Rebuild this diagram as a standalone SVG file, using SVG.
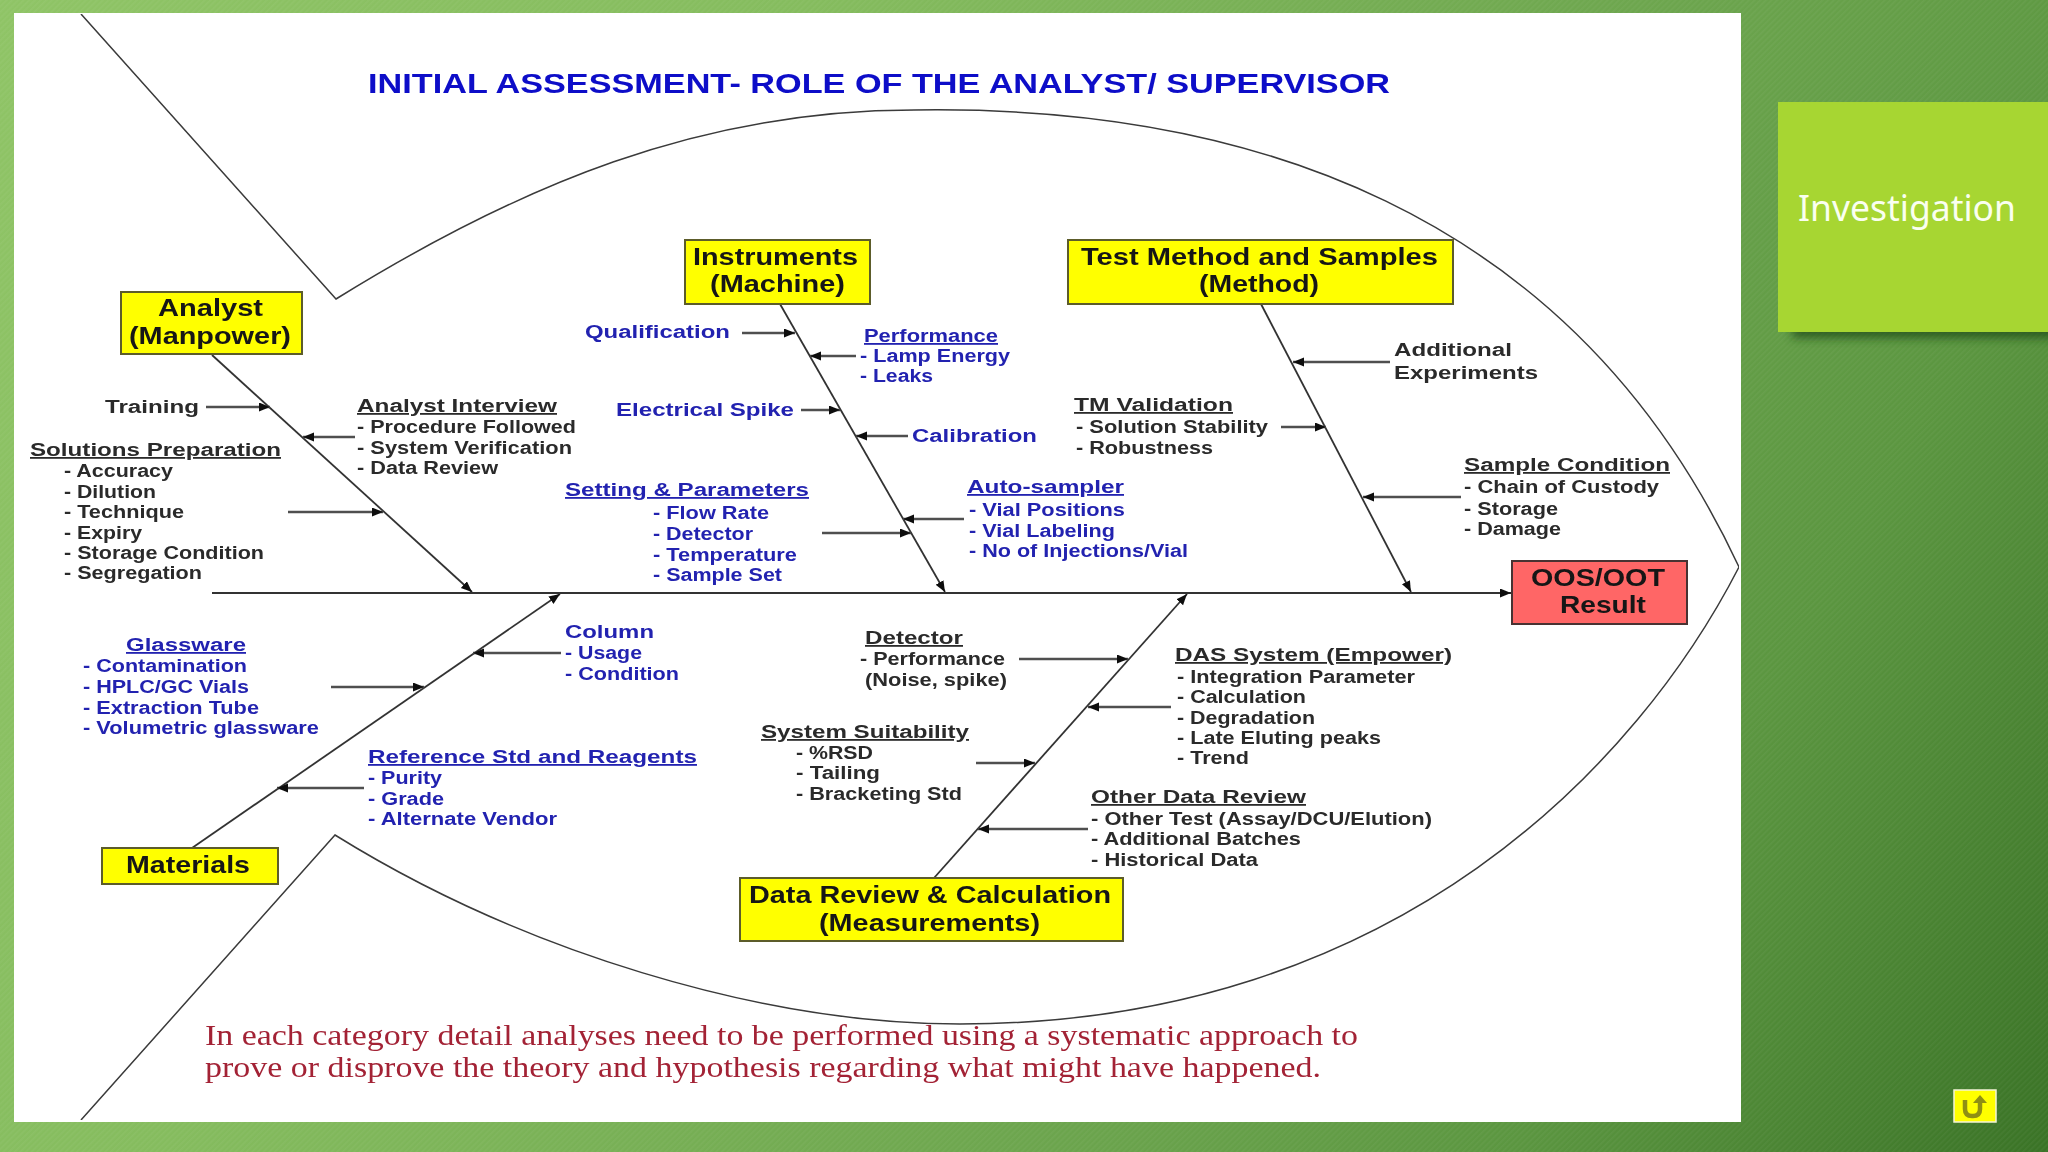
<svg xmlns="http://www.w3.org/2000/svg" width="2048" height="1152" viewBox="0 0 2048 1152">
<style>
text{font-family:"Liberation Sans",Arial,sans-serif;font-weight:bold}
.k{fill:#2a2a2a;font-size:18px}
.l{fill:#2424b0;font-size:18px}
.u{text-decoration:underline}
.h{fill:#161616;font-size:24px}
.box{fill:#ffff00;stroke:#5c5c2c;stroke-width:2}
.bone{fill:none;stroke:#333;stroke-width:1.8;marker-end:url(#a)}
.sub{fill:none;stroke:#505050;stroke-width:2.4;marker-end:url(#a)}
.fish{fill:none;stroke:#3a3a3a;stroke-width:1.5}
.note{font-family:"Liberation Serif","Times New Roman",serif;font-weight:normal;fill:#a32436;font-size:29px}
</style>
<defs>
<linearGradient id="bg" gradientUnits="userSpaceOnUse" x1="0" y1="0" x2="2048" y2="1152">
<stop offset="0" stop-color="#8fc466"/><stop offset=".3" stop-color="#85bc5e"/><stop offset=".65" stop-color="#6aa34c"/><stop offset=".8" stop-color="#5b9640"/><stop offset="1" stop-color="#3a7326"/>
</linearGradient>
<pattern id="hatch" width="4" height="4" patternUnits="userSpaceOnUse" patternTransform="rotate(-45)">
<rect width="4" height="1.6" fill="#ffffff" opacity=".045"/>
</pattern>
<marker id="a" markerUnits="userSpaceOnUse" markerWidth="12" markerHeight="10" refX="11" refY="4.5" orient="auto">
<path d="M0 0L11 4.5L0 9Z" fill="#111"/>
</marker>
<filter id="soft" x="-20%" y="-100%" width="140%" height="300%"><feGaussianBlur stdDeviation="5"/></filter>
<filter id="scan" x="0" y="0" width="100%" height="100%"><feGaussianBlur stdDeviation="0.45"/></filter>
</defs>

<rect width="2048" height="1152" fill="url(#bg)"/>
<rect width="2048" height="1152" fill="url(#hatch)"/>
<rect x="14" y="13" width="1727" height="1109" fill="#ffffff"/>

<g filter="url(#scan)">
<path class="fish" d="M81 14L336 299C520 185 700 110 914 110C1240 105 1570 205 1739 567C1640 760 1400 1024 960 1024C760 1024 520 950 335 835L81 1120"/>

<text x="368" y="93" font-size="28" fill="#0a0ac8" textLength="1022" lengthAdjust="spacingAndGlyphs">INITIAL ASSESSMENT- ROLE OF THE ANALYST/ SUPERVISOR</text>

<g id="connectors">
<line class="bone" x1="212" y1="593" x2="1511" y2="593"/>
<line class="bone" x1="212" y1="355" x2="472" y2="592"/>
<line class="bone" x1="780" y1="304" x2="945" y2="592"/>
<line class="bone" x1="1261" y1="304" x2="1411" y2="592"/>
<line class="bone" x1="192" y1="848" x2="560" y2="594"/>
<line class="bone" x1="934" y1="878" x2="1187" y2="594"/>
<line class="sub" x1="206" y1="407" x2="270" y2="407"/>
<line class="sub" x1="355" y1="437" x2="303" y2="437"/>
<line class="sub" x1="288" y1="512" x2="383" y2="512"/>
<line class="sub" x1="742" y1="333" x2="795" y2="333"/>
<line class="sub" x1="856" y1="356" x2="810" y2="356"/>
<line class="sub" x1="801" y1="410" x2="840" y2="410"/>
<line class="sub" x1="908" y1="436" x2="856" y2="436"/>
<line class="sub" x1="822" y1="533" x2="911" y2="533"/>
<line class="sub" x1="964" y1="519" x2="903" y2="519"/>
<line class="sub" x1="1281" y1="427" x2="1326" y2="427"/>
<line class="sub" x1="1390" y1="362" x2="1293" y2="362"/>
<line class="sub" x1="1461" y1="497" x2="1363" y2="497"/>
<line class="sub" x1="561" y1="653" x2="473" y2="653"/>
<line class="sub" x1="331" y1="687" x2="424" y2="687"/>
<line class="sub" x1="364" y1="788" x2="277" y2="788"/>
<line class="sub" x1="1019" y1="659" x2="1128" y2="659"/>
<line class="sub" x1="1171" y1="707" x2="1088" y2="707"/>
<line class="sub" x1="976" y1="763" x2="1035" y2="763"/>
<line class="sub" x1="1088" y1="829" x2="978" y2="829"/>
</g>

<g id="analyst"><rect class="box" x="121" y="292" width="181" height="62"/>
<text class="h" x="158" y="316" textLength="105" lengthAdjust="spacingAndGlyphs">Analyst</text>
<text class="h" x="129" y="344" textLength="162" lengthAdjust="spacingAndGlyphs">(Manpower)</text></g>
<g id="instruments"><rect class="box" x="685" y="240" width="185" height="64"/>
<text class="h" x="693" y="265" textLength="165" lengthAdjust="spacingAndGlyphs">Instruments</text>
<text class="h" x="710" y="292" textLength="135" lengthAdjust="spacingAndGlyphs">(Machine)</text></g>
<g id="method"><rect class="box" x="1068" y="240" width="385" height="64"/>
<text class="h" x="1081" y="265" textLength="357" lengthAdjust="spacingAndGlyphs">Test Method and Samples</text>
<text class="h" x="1199" y="292" textLength="120" lengthAdjust="spacingAndGlyphs">(Method)</text></g>
<g id="materials"><rect class="box" x="102" y="848" width="176" height="36"/>
<text class="h" x="126" y="873" textLength="124" lengthAdjust="spacingAndGlyphs">Materials</text></g>
<g id="measurements"><rect class="box" x="740" y="878" width="383" height="63"/>
<text class="h" x="749" y="903" textLength="362" lengthAdjust="spacingAndGlyphs">Data Review &amp; Calculation</text>
<text class="h" x="819" y="931" textLength="221" lengthAdjust="spacingAndGlyphs">(Measurements)</text></g>
<g id="result"><rect x="1512" y="561" width="175" height="63" fill="#ff6666" stroke="#4a3030" stroke-width="2"/>
<text class="h" x="1531" y="586" textLength="134" lengthAdjust="spacingAndGlyphs">OOS/OOT</text>
<text class="h" x="1560" y="613" textLength="86" lengthAdjust="spacingAndGlyphs">Result</text></g>

<g id="training"><text class="k" x="105" y="413" textLength="94" lengthAdjust="spacingAndGlyphs">Training</text></g>
<g id="solutions">
<text class="k u" x="30" y="456" textLength="251" lengthAdjust="spacingAndGlyphs">Solutions Preparation</text>
<text class="k" x="64" y="477" textLength="109" lengthAdjust="spacingAndGlyphs">- Accuracy</text>
<text class="k" x="64" y="498" textLength="92" lengthAdjust="spacingAndGlyphs">- Dilution</text>
<text class="k" x="64" y="518" textLength="120" lengthAdjust="spacingAndGlyphs">- Technique</text>
<text class="k" x="64" y="539" textLength="78" lengthAdjust="spacingAndGlyphs">- Expiry</text>
<text class="k" x="64" y="559" textLength="200" lengthAdjust="spacingAndGlyphs">- Storage Condition</text>
<text class="k" x="64" y="579" textLength="138" lengthAdjust="spacingAndGlyphs">- Segregation</text></g>
<g id="interview">
<text class="k u" x="357" y="412" textLength="200" lengthAdjust="spacingAndGlyphs">Analyst Interview</text>
<text class="k" x="357" y="433" textLength="219" lengthAdjust="spacingAndGlyphs">- Procedure Followed</text>
<text class="k" x="357" y="454" textLength="215" lengthAdjust="spacingAndGlyphs">- System Verification</text>
<text class="k" x="357" y="474" textLength="141" lengthAdjust="spacingAndGlyphs">- Data Review</text></g>
<g id="qualification"><text class="l" x="585" y="338" textLength="145" lengthAdjust="spacingAndGlyphs">Qualification</text></g>
<g id="performance">
<text class="l u" x="864" y="342" textLength="134" lengthAdjust="spacingAndGlyphs">Performance</text>
<text class="l" x="860" y="362" textLength="150" lengthAdjust="spacingAndGlyphs">- Lamp Energy</text>
<text class="l" x="860" y="382" textLength="73" lengthAdjust="spacingAndGlyphs">- Leaks</text></g>
<g id="spike"><text class="l" x="616" y="416" textLength="178" lengthAdjust="spacingAndGlyphs">Electrical Spike</text></g>
<g id="calibration"><text class="l" x="912" y="442" textLength="125" lengthAdjust="spacingAndGlyphs">Calibration</text></g>
<g id="settings">
<text class="l u" x="565" y="496" textLength="244" lengthAdjust="spacingAndGlyphs">Setting &amp; Parameters</text>
<text class="l" x="653" y="519" textLength="116" lengthAdjust="spacingAndGlyphs">- Flow Rate</text>
<text class="l" x="653" y="540" textLength="100" lengthAdjust="spacingAndGlyphs">- Detector</text>
<text class="l" x="653" y="561" textLength="144" lengthAdjust="spacingAndGlyphs">- Temperature</text>
<text class="l" x="653" y="581" textLength="129" lengthAdjust="spacingAndGlyphs">- Sample Set</text></g>
<g id="autosampler">
<text class="l u" x="967" y="493" textLength="157" lengthAdjust="spacingAndGlyphs">Auto-sampler</text>
<text class="l" x="969" y="516" textLength="156" lengthAdjust="spacingAndGlyphs">- Vial Positions</text>
<text class="l" x="969" y="537" textLength="146" lengthAdjust="spacingAndGlyphs">- Vial Labeling</text>
<text class="l" x="969" y="557" textLength="219" lengthAdjust="spacingAndGlyphs">- No of Injections/Vial</text></g>
<g id="tm">
<text class="k u" x="1074" y="411" textLength="159" lengthAdjust="spacingAndGlyphs">TM Validation</text>
<text class="k" x="1076" y="433" textLength="192" lengthAdjust="spacingAndGlyphs">- Solution Stability</text>
<text class="k" x="1076" y="454" textLength="137" lengthAdjust="spacingAndGlyphs">- Robustness</text></g>
<g id="experiments">
<text class="k" x="1394" y="356" textLength="118" lengthAdjust="spacingAndGlyphs">Additional</text>
<text class="k" x="1394" y="379" textLength="144" lengthAdjust="spacingAndGlyphs">Experiments</text></g>
<g id="sample">
<text class="k u" x="1464" y="471" textLength="206" lengthAdjust="spacingAndGlyphs">Sample Condition</text>
<text class="k" x="1464" y="493" textLength="195" lengthAdjust="spacingAndGlyphs">- Chain of Custody</text>
<text class="k" x="1464" y="515" textLength="94" lengthAdjust="spacingAndGlyphs">- Storage</text>
<text class="k" x="1464" y="535" textLength="97" lengthAdjust="spacingAndGlyphs">- Damage</text></g>
<g id="glassware">
<text class="l u" x="126" y="651" textLength="120" lengthAdjust="spacingAndGlyphs">Glassware</text>
<text class="l" x="83" y="672" textLength="164" lengthAdjust="spacingAndGlyphs">- Contamination</text>
<text class="l" x="83" y="693" textLength="166" lengthAdjust="spacingAndGlyphs">- HPLC/GC Vials</text>
<text class="l" x="83" y="714" textLength="176" lengthAdjust="spacingAndGlyphs">- Extraction Tube</text>
<text class="l" x="83" y="734" textLength="236" lengthAdjust="spacingAndGlyphs">- Volumetric glassware</text></g>
<g id="column">
<text class="l" x="565" y="638" textLength="89" lengthAdjust="spacingAndGlyphs">Column</text>
<text class="l" x="565" y="659" textLength="77" lengthAdjust="spacingAndGlyphs">- Usage</text>
<text class="l" x="565" y="680" textLength="114" lengthAdjust="spacingAndGlyphs">- Condition</text></g>
<g id="reference">
<text class="l u" x="368" y="763" textLength="329" lengthAdjust="spacingAndGlyphs">Reference Std and Reagents</text>
<text class="l" x="368" y="784" textLength="74" lengthAdjust="spacingAndGlyphs">- Purity</text>
<text class="l" x="368" y="805" textLength="76" lengthAdjust="spacingAndGlyphs">- Grade</text>
<text class="l" x="368" y="825" textLength="189" lengthAdjust="spacingAndGlyphs">- Alternate Vendor</text></g>
<g id="detector">
<text class="k u" x="865" y="644" textLength="98" lengthAdjust="spacingAndGlyphs">Detector</text>
<text class="k" x="860" y="665" textLength="145" lengthAdjust="spacingAndGlyphs">- Performance</text>
<text class="k" x="865" y="686" textLength="142" lengthAdjust="spacingAndGlyphs">(Noise, spike)</text></g>
<g id="suitability">
<text class="k u" x="761" y="738" textLength="208" lengthAdjust="spacingAndGlyphs">System Suitability</text>
<text class="k" x="796" y="759" textLength="77" lengthAdjust="spacingAndGlyphs">- %RSD</text>
<text class="k" x="796" y="779" textLength="84" lengthAdjust="spacingAndGlyphs">- Tailing</text>
<text class="k" x="796" y="800" textLength="166" lengthAdjust="spacingAndGlyphs">- Bracketing Std</text></g>
<g id="das">
<text class="k u" x="1175" y="661" textLength="277" lengthAdjust="spacingAndGlyphs">DAS System (Empower)</text>
<text class="k" x="1177" y="683" textLength="238" lengthAdjust="spacingAndGlyphs">- Integration Parameter</text>
<text class="k" x="1177" y="703" textLength="129" lengthAdjust="spacingAndGlyphs">- Calculation</text>
<text class="k" x="1177" y="724" textLength="138" lengthAdjust="spacingAndGlyphs">- Degradation</text>
<text class="k" x="1177" y="744" textLength="204" lengthAdjust="spacingAndGlyphs">- Late Eluting peaks</text>
<text class="k" x="1177" y="764" textLength="72" lengthAdjust="spacingAndGlyphs">- Trend</text></g>
<g id="other">
<text class="k u" x="1091" y="803" textLength="215" lengthAdjust="spacingAndGlyphs">Other Data Review</text>
<text class="k" x="1091" y="825" textLength="341" lengthAdjust="spacingAndGlyphs">- Other Test (Assay/DCU/Elution)</text>
<text class="k" x="1091" y="845" textLength="210" lengthAdjust="spacingAndGlyphs">- Additional Batches</text>
<text class="k" x="1091" y="866" textLength="167" lengthAdjust="spacingAndGlyphs">- Historical Data</text></g>

<text class="note" x="205" y="1045" textLength="1153" lengthAdjust="spacingAndGlyphs">In each category detail analyses need to be performed using a systematic approach to</text>
<text class="note" x="205" y="1077" textLength="1116" lengthAdjust="spacingAndGlyphs">prove or disprove the theory and hypothesis regarding what might have happened.</text>
</g>

<g id="panel">
<rect x="1792" y="318" width="270" height="20" fill="#1f4a12" opacity=".75" filter="url(#soft)"/>
<rect x="1778" y="102" width="270" height="230" fill="#a7d632"/>
<text x="1798" y="221" font-size="36" fill="#fafff0" style="font-family:'Noto Sans',sans-serif;font-weight:normal" textLength="218" lengthAdjust="spacingAndGlyphs">Investigation</text>
</g>
<g id="return-button">
<rect x="1954" y="1090" width="42" height="32" fill="#ffff00" stroke="#f4f4d8" stroke-width="1.5"/>
<path d="M1965 1100V1109Q1965 1116 1972 1116H1973Q1980 1116 1980 1109V1101" fill="none" stroke="#8f8f14" stroke-width="4.5"/>
<path d="M1973 1103L1980 1095L1987 1103Z" fill="#8f8f14"/>
</g>
</svg>
